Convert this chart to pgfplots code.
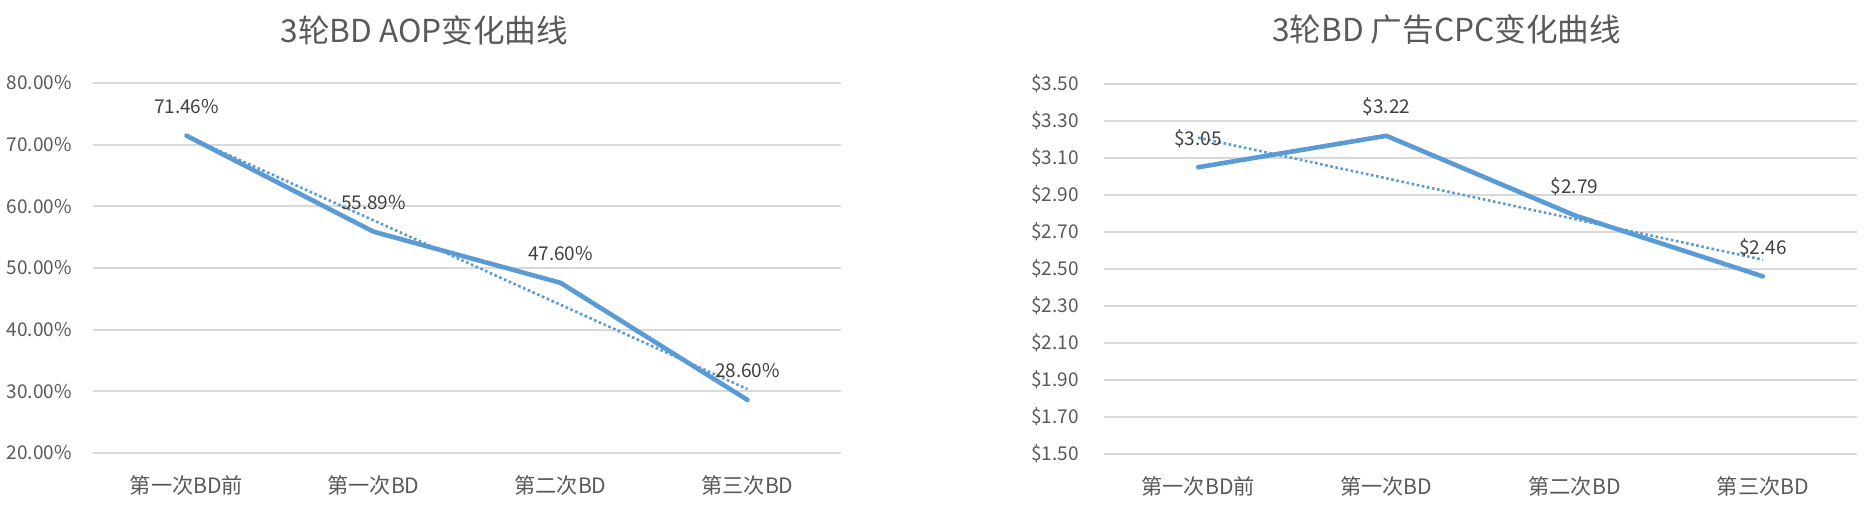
\documentclass[border=0pt]{standalone}
\usepackage{fontspec}
\setmainfont{Noto Sans CJK SC}
\usepackage{pgfplots}
\pgfplotsset{compat=1.18}
\definecolor{lineblue}{HTML}{5B9BD5}
\definecolor{gridgray}{HTML}{D9D9D9}
\definecolor{txtgray}{HTML}{595959}
\definecolor{lblgray}{HTML}{404040}
\pgfplotsset{
  mystyle/.style={
    scale only axis,
    /pgf/number format/assume math mode=true,
    xmin=-0.5, xmax=3.5,
    xtick={0,1,2,3},
    xticklabels={第一次BD前,第一次BD,第二次BD,第三次BD},
    axis line style={draw=none},
    major tick style={draw=none},
    ymajorgrids,
    grid style={gridgray, line width=1pt},
    tick label style={font=\fontsize{9.5pt}{11pt}\selectfont, text=txtgray},
    xticklabel style={font=\fontsize{10.6pt}{12pt}\selectfont, anchor=center, yshift=-16pt},
    every node near coord/.append style={font=\fontsize{9.5pt}{11pt}\selectfont, text=lblgray, anchor=center, yshift=14.5pt},
  },
  mainline/.style={lineblue, line width=2.3pt, line join=round, line cap=round, mark=none},
  trendline/.style={lineblue, line width=1.3pt, dash pattern=on 1.3pt off 1.3pt, mark=none},
}
\begin{document}
\begin{tikzpicture}
\path[use as bounding box] (0,0) rectangle (934.5pt,253.5pt);
% Left chart
\begin{axis}[mystyle,
  at={(46.5pt,27pt)}, anchor=south west,
  width=374pt, height=185pt,
  ymin=20, ymax=80,
  ytick={20,30,40,50,60,70,80},
  yticklabel={\pgfmathprintnumber[fixed,fixed zerofill,precision=2]{\tick}\%},
  yticklabel style={anchor=east, inner sep=0pt, xshift=-10.5pt},
  title={3轮BD AOP变化曲线},
  title style={font=\fontsize{15.8pt}{18pt}\selectfont, text=txtgray, at={(axis description cs:0.443,1)}, anchor=center, yshift=20.3pt},
]
\addplot[mainline, nodes near coords={\pgfmathprintnumber[fixed,fixed zerofill,precision=2]{\pgfplotspointmeta}\%}]
  coordinates {(0,71.46) (1,55.89) (2,47.60) (3,28.60)};
\addplot[trendline] coordinates {(0,71.42) (1,57.73) (2,44.04) (3,30.36)};
\end{axis}
% Right chart
\begin{axis}[mystyle,
  at={(552pt,26.5pt)}, anchor=south west,
  width=376.5pt, height=185pt,
  ymin=1.5, ymax=3.5,
  ytick={1.5,1.7,1.9,2.1,2.3,2.5,2.7,2.9,3.1,3.3,3.5},
  yticklabel={\$\pgfmathprintnumber[fixed,fixed zerofill,precision=2]{\tick}},
  yticklabel style={anchor=east, inner sep=0pt, xshift=-12.5pt},
  title={3轮BD 广告CPC变化曲线},
  title style={font=\fontsize{15.8pt}{18pt}\selectfont, text=txtgray, at={(axis description cs:0.455,1)}, anchor=center, yshift=21pt},
]
\addplot[mainline, nodes near coords={\$\pgfmathprintnumber[fixed,fixed zerofill,precision=2]{\pgfplotspointmeta}}]
  coordinates {(0,3.05) (1,3.22) (2,2.79) (3,2.46)};
\addplot[trendline] coordinates {(0,3.21) (1,2.99) (2,2.77) (3,2.55)};
\end{axis}
\end{tikzpicture}
\end{document}
